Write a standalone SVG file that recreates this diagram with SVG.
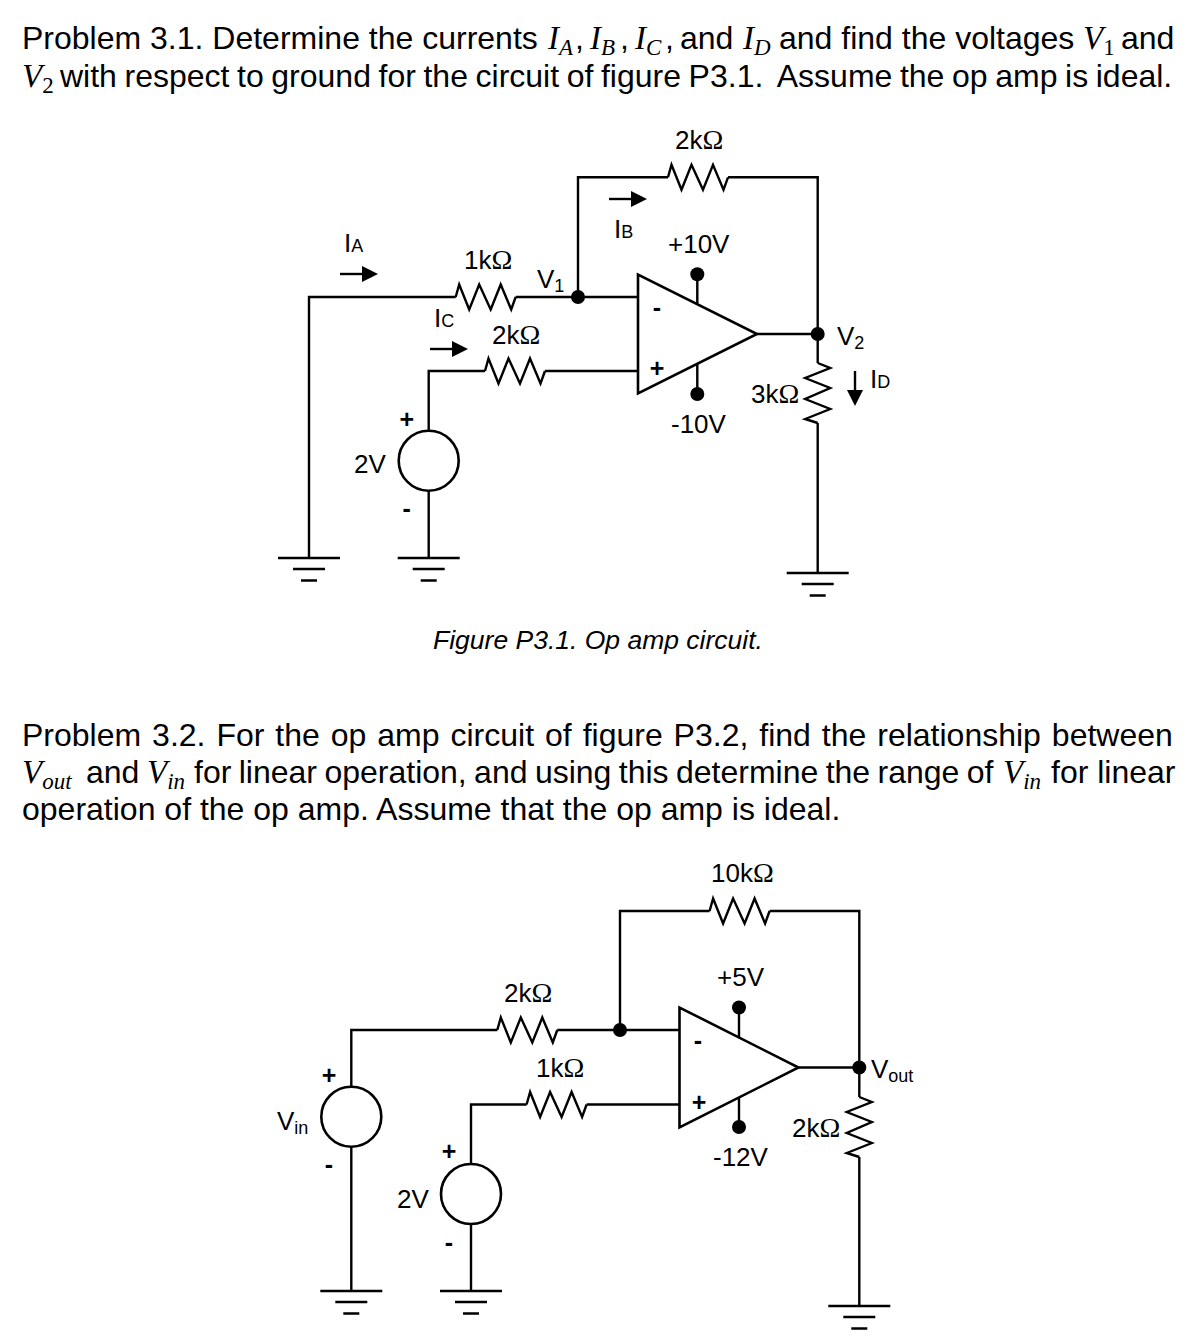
<svg xmlns="http://www.w3.org/2000/svg" width="1194" height="1339" viewBox="0 0 1194 1339">
<style>
text{font-family:"Liberation Sans",Arial,sans-serif;fill:#000;white-space:pre}
.body{font-size:32px}
.m{font-family:"Liberation Serif","Times New Roman",serif;font-style:italic;font-size:33px}
.ms{font-family:"Liberation Serif","Times New Roman",serif;font-style:italic;font-size:23px}
.ms2{font-family:"Liberation Serif","Times New Roman",serif;font-style:normal;font-size:23px}
.l{font-size:26px}
.s{font-size:18px}
.o{font-family:"Liberation Serif","Times New Roman",serif;font-size:28px}
.sign{font-size:25px;font-weight:bold;text-anchor:middle}
.cap{font-size:26.500px;font-style:italic}
.w{fill:none;stroke:#000;stroke-width:2.4;stroke-linejoin:miter}
.src{fill:#fff;stroke:#000;stroke-width:2.6}
.tri{fill:#fff;stroke:#000;stroke-width:2.6;stroke-linejoin:miter}
.d{fill:#000}
.cur{stroke:#000;stroke-width:2.4;fill:none;marker-end:url(#ah)}
</style>
<defs>
<marker id="ah" markerUnits="userSpaceOnUse" markerWidth="17" markerHeight="17" refX="8" refY="8" orient="auto"><path d="M0,0L16,8L0,16z" fill="#000"/></marker>
<path id="rh" class="w" d="M0,0L3.5,-12.5L13.5,12.5L23.5,-12.5L35,12.5L45,-12.5L55.5,12.5L60,0"/>
<path id="rv" class="w" d="M0,0L12.5,5L-12.5,15L12.5,25L-12.5,36L12.5,46L-12.5,56L0,60"/>
<g id="gnd"><path class="w" d="M-31,0H31M-16,11H16M-8,22.500H8"/></g>
</defs>

<g id="problem-text">
<text class="body" x="22" y="49">Problem 3.1. Determine the currents</text>
<text class="m" x="548" y="49">I<tspan class="ms" dy="6">A</tspan></text>
<text class="body" x="575" y="49">,</text>
<text class="m" x="590" y="49">I<tspan class="ms" dy="6">B</tspan></text>
<text class="body" x="620" y="49">,</text>
<text class="m" x="635" y="49">I<tspan class="ms" dy="6">C</tspan></text>
<text class="body" x="665" y="49">,</text>
<text class="body" x="680" y="49">and</text>
<text class="m" x="743" y="49">I<tspan class="ms" dy="6">D</tspan></text>
<text class="body" x="779" y="49">and find the voltages</text>
<text class="m" x="1083" y="49">V<tspan class="ms2" dy="6">1</tspan></text>
<text class="body" x="1121" y="49">and</text>
<text class="m" x="22" y="87">V<tspan class="ms2" dy="6">2</tspan></text>
<text class="body" x="60" y="87" word-spacing="-1.300">with respect to ground for the circuit of figure P3.1.  Assume the op amp is ideal.</text>
<text class="body" x="22" y="746" word-spacing="2.050">Problem 3.2. For the op amp circuit of figure P3.2, find the relationship between</text>
<text class="m" x="22" y="783">V<tspan class="ms" dy="6">out</tspan></text>
<text class="body" x="86" y="783">and</text>
<text class="m" x="147" y="783">V<tspan class="ms" dy="6">in</tspan></text>
<text class="body" x="194" y="783" word-spacing="-1.500">for linear operation, and using this determine the range of</text>
<text class="m" x="1003" y="783">V<tspan class="ms" dy="6">in</tspan></text>
<text class="body" x="1051" y="783">for linear</text>
<text class="body" x="22" y="820">operation of the op amp. Assume that the op amp is ideal.</text>
<text class="cap" x="433" y="649">Figure P3.1. Op amp circuit.</text>
</g>

<g id="connectors">
<path class="w" d="M309,558V297H455.700M515.700,297H638"/>
<path class="w" d="M578,297V177.300H668M728,177.300H817.700V363M817.700,423V573"/>
<path class="w" d="M428.700,558V371H485M545,371H638"/>
<path class="w" d="M757,334H817.700"/>
<path class="w" d="M697.300,274V304M697.300,364V394"/>
<path class="w" d="M351.300,1291V1030H497.300M557.300,1030H679.500"/>
<path class="w" d="M620,1030V911H709.600M769.600,911H859.300V1097M859.300,1157V1306"/>
<path class="w" d="M471,1291V1104.500H526.600M586.600,1104.500H679.500"/>
<path class="w" d="M798.500,1067.500H859.300"/>
<path class="w" d="M739,1007.500V1037.500M739,1097.500V1127.500"/>
</g>

<g id="currents">
<g id="I-A"><line class="cur" x1="340" y1="274" x2="370" y2="274"/><text class="l" x="344" y="252">I<tspan class="s">A</tspan></text></g>
<g id="I-C"><line class="cur" x1="430" y1="349" x2="460" y2="349"/><text class="l" x="434" y="327">I<tspan class="s">C</tspan></text></g>
<g id="I-B"><line class="cur" x1="609" y1="199" x2="639" y2="199"/><text class="l" x="614" y="238">I<tspan class="s">B</tspan></text></g>
<g id="I-D"><line class="cur" x1="855" y1="371" x2="855" y2="398"/><text class="l" x="870" y="388">I<tspan class="s">D</tspan></text></g>
</g>

<g id="R1-1k"><use href="#rh" x="455.700" y="297"/><text class="l" x="464" y="269">1k<tspan class="o">Ω</tspan></text></g>
<g id="R1-2k-in"><use href="#rh" x="485" y="371"/><text class="l" x="492" y="344">2k<tspan class="o">Ω</tspan></text></g>
<g id="R1-2k-fb"><use href="#rh" x="668" y="177.300"/><text class="l" x="675" y="149">2k<tspan class="o">Ω</tspan></text></g>
<g id="R1-3k"><use href="#rv" x="817.700" y="363"/><text class="l" x="751" y="403">3k<tspan class="o">Ω</tspan></text></g>
<g id="opamp1"><path class="tri" d="M638,274.500V393.500L757,334z"/><text class="sign" x="657" y="316">-</text><text class="sign" x="657" y="377">+</text></g>
<g id="supply1-pos"><circle class="d" cx="697.300" cy="274.300" r="7"/><text class="l" x="668" y="253">+10V</text></g>
<g id="supply1-neg"><circle class="d" cx="697.300" cy="394" r="7"/><text class="l" x="671" y="433">-10V</text></g>
<g id="node-V1"><circle class="d" cx="578" cy="297" r="7"/><text class="l" x="537" y="288">V<tspan class="s" dy="4">1</tspan></text></g>
<g id="node-V2"><circle class="d" cx="817.700" cy="334" r="7"/><text class="l" x="837" y="345">V<tspan class="s" dy="4">2</tspan></text></g>
<g id="source1"><circle class="src" cx="428.700" cy="460.700" r="30"/><text class="l" x="354" y="473">2V</text><text class="sign" x="406.700" y="428">+</text><text class="sign" x="406.700" y="517">-</text></g>
<g id="gnd1-a"><use href="#gnd" x="309" y="558"/></g>
<g id="gnd1-b"><use href="#gnd" x="428.700" y="558"/></g>
<g id="gnd1-c"><use href="#gnd" x="817.700" y="573"/></g>

<g id="R2-2k"><use href="#rh" x="497.300" y="1030"/><text class="l" x="504" y="1002">2k<tspan class="o">Ω</tspan></text></g>
<g id="R2-1k"><use href="#rh" x="526.600" y="1104.500"/><text class="l" x="536" y="1077">1k<tspan class="o">Ω</tspan></text></g>
<g id="R2-10k"><use href="#rh" x="709.600" y="911"/><text class="l" x="711" y="882">10k<tspan class="o">Ω</tspan></text></g>
<g id="R2-2k-load"><use href="#rv" x="859.300" y="1097"/><text class="l" x="792" y="1137">2k<tspan class="o">Ω</tspan></text></g>
<g id="opamp2"><path class="tri" d="M679.500,1007.500V1127.500L798.500,1067.500z"/><text class="sign" x="698" y="1049">-</text><text class="sign" x="699" y="1111">+</text></g>
<g id="supply2-pos"><circle class="d" cx="739" cy="1007.500" r="7"/><text class="l" x="717" y="986">+5V</text></g>
<g id="supply2-neg"><circle class="d" cx="739" cy="1127" r="7"/><text class="l" x="713" y="1166">-12V</text></g>
<g id="node-junction2"><circle class="d" cx="620" cy="1030" r="7"/></g>
<g id="node-Vout"><circle class="d" cx="859.300" cy="1067.500" r="7"/><text class="l" x="871" y="1078">V<tspan class="s" dy="4">out</tspan></text></g>
<g id="source-Vin"><circle class="src" cx="351.300" cy="1116.700" r="30"/><text class="l" x="277" y="1130">V<tspan class="s" dy="4">in</tspan></text><text class="sign" x="329" y="1084">+</text><text class="sign" x="329" y="1173">-</text></g>
<g id="source2"><circle class="src" cx="471" cy="1194" r="30"/><text class="l" x="397" y="1208">2V</text><text class="sign" x="449" y="1160">+</text><text class="sign" x="449" y="1251">-</text></g>
<g id="gnd2-a"><use href="#gnd" x="351.300" y="1291"/></g>
<g id="gnd2-b"><use href="#gnd" x="471" y="1291"/></g>
<g id="gnd2-c"><use href="#gnd" x="859.300" y="1306"/></g>
</svg>
